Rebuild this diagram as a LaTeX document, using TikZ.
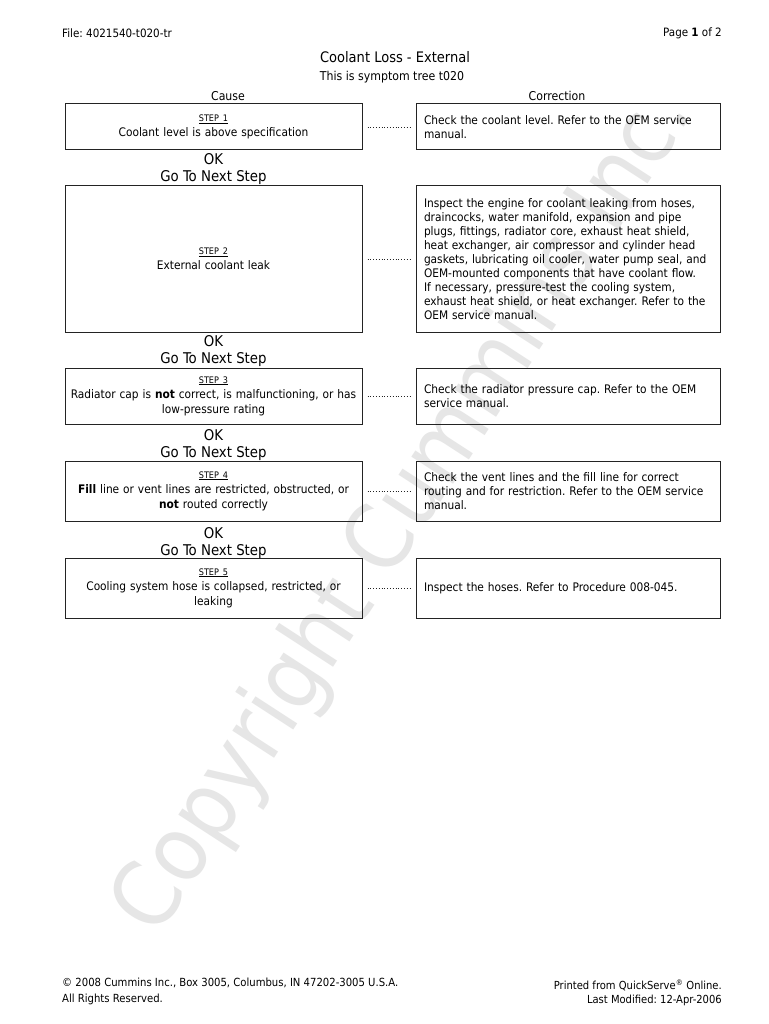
\documentclass[tikz,border=0pt]{standalone}
\usepackage{fontspec}
\setmainfont{DejaVu Sans Condensed}
\usetikzlibrary{positioning}
\definecolor{tgline}{RGB}{35,35,35}
\definecolor{tgmark}{RGB}{230,230,230}
\newcommand{\steptag}[1]{{\fontsize{9}{10}\selectfont\underline{STEP #1}}\\}
\frenchspacing
\tikzset{
  causebox/.style={draw=tgline, line width=1pt, align=center, text width=289pt,
    minimum width=297pt, inner xsep=4pt, inner ysep=0pt,
    font=\fontsize{11.8}{15}\selectfont},
  fixbox/.style={draw=tgline, line width=1pt, align=left, text width=288pt,
    minimum width=304pt, inner xsep=8pt, inner ysep=0pt,
    font=\fontsize{11.8}{14}\selectfont},
  nextstep/.style={align=center, inner sep=0pt, font=\fontsize{14.8}{17}\selectfont},
  headtxt/.style={inner sep=0pt, font=\fontsize{12.2}{14}\selectfont},
  dotlink/.style={draw=tgline, line width=0.8pt, dash pattern=on 0.8pt off 2pt,
    shorten <=5pt, shorten >=4pt}
}
\begin{document}
\begin{tikzpicture}[x=1pt, y=-1pt]
  \useasboundingbox[fill=white] (0,0) rectangle (768,1024);
  % watermark
  \node[text=tgmark, rotate=57, font=\fontsize{91}{93}\selectfont] (mark) at (405,512) {Copyright Cummins Inc.};
  % page head
  \node[headtxt, anchor=west, font=\fontsize{11.5}{14}\selectfont] (file) at (62,33) {File: 4021540-t020-tr};
  \node[headtxt, anchor=east, font=\fontsize{11.5}{14}\selectfont] (page) at (722,33) {Page \textbf{1} of 2};
  \node[inner sep=0pt, font=\fontsize{14.5}{16}\selectfont] (title) at (395,57) {Coolant Loss - External};
  \node[headtxt] (sub) at (392,77) {This is symptom tree t020};
  \node[headtxt] (hcause) at (228,96) {Cause};
  \node[headtxt] (hfix) at (557,96) {Correction};
  % steps
  \node[causebox, minimum height=46pt] (c1) at (213.5,127) {\steptag{1}Coolant level is above specification};
  \node[fixbox, minimum height=46pt] (f1) at (568,127) {Check the coolant level. Refer to the OEM service\\manual.};
  \node[nextstep] (n1) at (213.5,169) {OK\\Go To Next Step};
  \node[causebox, minimum height=146pt] (c2) at (213.5,259) {\steptag{2}External coolant leak};
  \node[fixbox, minimum height=146pt] (f2) at (568,259) {Inspect the engine for coolant leaking from hoses,\\
    draincocks, water manifold, expansion and pipe\\
    plugs, fittings, radiator core, exhaust heat shield,\\
    heat exchanger, air compressor and cylinder head\\
    gaskets, lubricating oil cooler, water pump seal, and\\
    OEM-mounted components that have coolant flow.\\
    If necessary, pressure-test the cooling system,\\
    exhaust heat shield, or heat exchanger. Refer to the\\
    OEM service manual.};
  \node[nextstep] (n2) at (213.5,351) {OK\\Go To Next Step};
  \node[causebox, minimum height=56pt] (c3) at (213.5,396) {\steptag{3}Radiator cap is \textbf{not} correct, is malfunctioning, or has\\low-pressure rating};
  \node[fixbox, minimum height=56pt] (f3) at (568,396) {Check the radiator pressure cap. Refer to the OEM\\service manual.};
  \node[nextstep] (n3) at (213.5,445) {OK\\Go To Next Step};
  \node[causebox, minimum height=60pt] (c4) at (213.5,491) {\steptag{4}\textbf{Fill} line or vent lines are restricted, obstructed, or\\\textbf{not} routed correctly};
  \node[fixbox, minimum height=60pt] (f4) at (568,491) {Check the vent lines and the fill line for correct\\routing and for restriction. Refer to the OEM service\\manual.};
  \node[nextstep] (n4) at (213.5,543) {OK\\Go To Next Step};
  \node[causebox, minimum height=60pt] (c5) at (213.5,588) {\steptag{5}Cooling system hose is collapsed, restricted, or\\leaking};
  \node[fixbox, minimum height=60pt] (f5) at (568,588) {Inspect the hoses. Refer to Procedure 008-045.};
  \foreach \i in {1,...,5}
    \draw[dotlink] (c\i) -- (f\i);
  % page foot
  \node[headtxt, anchor=west, align=left, font=\fontsize{11.2}{16}\selectfont] (copy) at (62,991) {\textcopyright{} 2008 Cummins Inc., Box 3005, Columbus, IN 47202-3005 U.S.A.\\All Rights Reserved.};
  \node[headtxt, anchor=east, align=right, font=\fontsize{11.1}{14}\selectfont] (print) at (722,993) {Printed from QuickServe\textsuperscript{\textregistered} Online.\\Last Modified: 12-Apr-2006};
\end{tikzpicture}
\end{document}
